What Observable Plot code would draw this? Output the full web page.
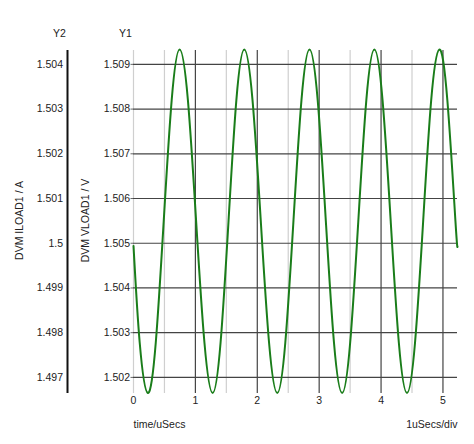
<!DOCTYPE html>
<html>
<head>
<meta charset="utf-8">
<script src="https://cdn.jsdelivr.net/npm/d3@7"></script>
<script src="https://cdn.jsdelivr.net/npm/@observablehq/plot@0.6"></script>
<style>
  body { margin: 0; background: white; }
  #wrap { position: relative; width: 474px; height: 444px; }
  #wrap svg { position: absolute; left: 0; top: 0; }
</style>
</head>
<body>
<div id="wrap"></div>
<script>
// time (uSecs) and DVM VLOAD1 (V)
const times = [0, 0.100, 0.231, 0.360, 0.488, 0.617, 0.745, 0.879, 1.012, 1.146, 1.279, 1.407, 1.535, 1.662, 1.790, 1.923, 2.057, 2.190, 2.323, 2.453, 2.584, 2.714, 2.844, 2.976, 3.108, 3.239, 3.371, 3.501, 3.632, 3.762, 3.892, 4.024, 4.156, 4.287, 4.419, 4.549, 4.680, 4.810, 4.940, 5.071, 5.202, 5.235];
const values = [1.50494, 1.50278, 1.50165, 1.50278, 1.50549, 1.50820, 1.50933, 1.50820, 1.50549, 1.50278, 1.50165, 1.50278, 1.50549, 1.50820, 1.50933, 1.50820, 1.50549, 1.50278, 1.50165, 1.50278, 1.50549, 1.50820, 1.50933, 1.50820, 1.50549, 1.50278, 1.50165, 1.50278, 1.50549, 1.50820, 1.50933, 1.50820, 1.50549, 1.50278, 1.50165, 1.50278, 1.50549, 1.50820, 1.50933, 1.50820, 1.50549, 1.50493];

const xTicks = [0, 1, 2, 3, 4, 5];
const xMajorGrid = [1, 2, 3, 4, 5];
const xMinorGrid = [0, 0.5, 1.5, 2.5, 3.5, 4.5];
const y1Ticks = [1.502, 1.503, 1.504, 1.505, 1.506, 1.507, 1.508, 1.509];
const y2Ticks = [1.497, 1.498, 1.499, 1.5, 1.501, 1.502, 1.503, 1.504];
const xDomain = [0, 5.235];
const y1Domain = [1.50164, 1.50931];
const y2Domain = [1.49664, 1.50431];

const data = times.map((t, i) => ({t, v: values[i]}));
const font = "Liberation Sans, Arial, sans-serif";
const fmt = d => String(+d.toFixed(3));

const main = Plot.plot({
  width: 474, height: 444,
  marginTop: 50, marginBottom: 51, marginLeft: 133, marginRight: 17,
  style: {fontFamily: font, fontSize: "10.5px", color: "#222", background: "white"},
  x: {domain: xDomain, axis: null},
  y: {domain: y1Domain, axis: null},
  marks: [
    Plot.ruleX(xMinorGrid, {stroke: "#cfcfcf", strokeWidth: 1.2}),
    Plot.ruleX(xMajorGrid, {stroke: "#444", strokeWidth: 1.2}),
    Plot.ruleY(y1Ticks, {stroke: "#444", strokeWidth: 1.2}),
    Plot.line(data, {x: "t", y: "v", curve: "natural", stroke: "#1a7d1a", strokeWidth: 2}),
    Plot.axisY(y1Ticks, {anchor: "left", tickSize: 2.5, tickPadding: 1, tickFormat: fmt, label: null, stroke: "#666", fontSize: 10.5}),
    Plot.axisX(xTicks, {anchor: "bottom", tickSize: 0, tickPadding: 3, label: null, fontSize: 10.5}),
    Plot.text(["Y1"], {frameAnchor: "top-left", dx: -8, dy: -17, textAnchor: "middle", lineAnchor: "middle", fontSize: 10.5}),
    Plot.text(["Y2"], {frameAnchor: "top-left", dx: -74, dy: -17, textAnchor: "middle", lineAnchor: "middle", fontSize: 10.5}),
    Plot.text(["time/uSecs"], {frameAnchor: "bottom-left", dy: 31, textAnchor: "start", lineAnchor: "middle", fontSize: 10.5}),
    Plot.text(["1uSecs/div"], {frameAnchor: "bottom-right", dy: 31, textAnchor: "end", lineAnchor: "middle", fontSize: 10.5}),
    Plot.text(["DVM VLOAD1 / V"], {frameAnchor: "left", dx: -47.5, dy: -1.5, rotate: -90, textAnchor: "middle", lineAnchor: "middle", fontSize: 10.5}),
    Plot.text(["DVM ILOAD1 / A"], {frameAnchor: "left", dx: -113.5, dy: -1.5, rotate: -90, textAnchor: "middle", lineAnchor: "middle", fontSize: 10.5})
  ]
});

const second = Plot.plot({
  width: 474, height: 444,
  marginTop: 50, marginBottom: 51, marginLeft: 67, marginRight: 400,
  style: {fontFamily: font, fontSize: "10.5px", color: "#222", background: "transparent"},
  x: {domain: [0, 1], axis: null},
  y: {domain: y2Domain, axis: null},
  marks: [
    Plot.ruleX([0], {stroke: "#111", strokeWidth: 2}),
    Plot.axisY(y2Ticks, {anchor: "left", tickSize: 0, tickPadding: 4.5, tickFormat: fmt, label: null, fontSize: 10.5})
  ]
});

const wrap = document.getElementById("wrap");
wrap.appendChild(main);
wrap.appendChild(second);
</script>
</body>
</html>
